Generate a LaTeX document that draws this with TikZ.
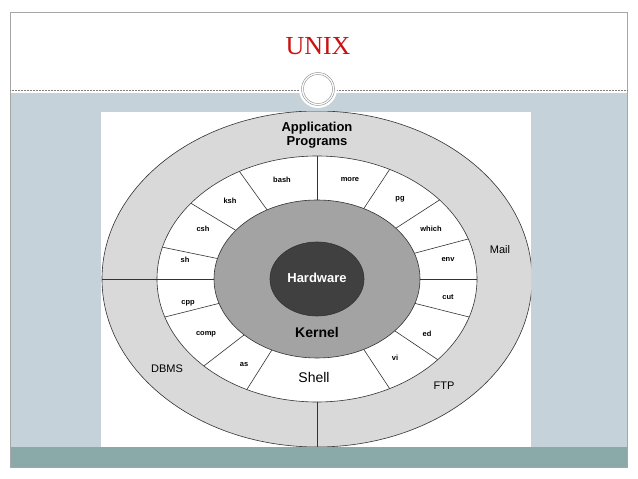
\documentclass[tikz,border=0pt]{standalone}
\usepackage{fontspec}
\setmainfont{Liberation Serif}
\newfontfamily\arial{Liberation Sans}
\usetikzlibrary{calc}
\definecolor{band}{HTML}{C6D2D9}
\definecolor{teal}{HTML}{8AAAAA}
\definecolor{ring}{HTML}{D9D9D9}
\definecolor{kern}{HTML}{A3A3A3}
\definecolor{hw}{HTML}{404040}
\definecolor{titlered}{HTML}{CC1111}
\tikzset{
  seg/.style={font=\arial\bfseries\fontsize{7.5}{8}\selectfont},
  ext/.style={font=\arial\fontsize{11}{12}\selectfont},
  ln/.style={draw=black!80, line width=0.6pt}
}
\begin{document}
\begin{tikzpicture}[x=1pt,y=1pt]
\useasboundingbox (0,0) rectangle (638,479);
\fill[white] (0,0) rectangle (638,479);
% slide
\fill[band] (10,32) rectangle (627,386);
\fill[teal] (10,12) rectangle (627,32);
\draw[gray!70, line width=0.5pt] (10,12) rectangle (627,467);
\draw[gray, densely dotted, line width=0.5pt] (10,389) -- (627,389);
\fill[white] (318,390) circle (19);
\draw[gray!80, line width=0.5pt] (318,390) circle (16.5);
\draw[gray!80, line width=0.5pt] (318,390) circle (14.5);
\node[text=titlered, font=\fontsize{26}{28}\selectfont] (title) at (318,433) {UNIX};
% diagram
\fill[white] (101,32) rectangle (531,367);
\coordinate (C) at (317,200);
\begin{scope}
\clip (101,32) rectangle (531,367);
\filldraw[fill=ring, ln] (C) ellipse (215 and 168);
\draw[ln] ($(C)+(0,-123)$) -- ($(C)+(0,-170)$);
\end{scope}
\draw[ln] ($(C)+(-215,0)$) -- ($(C)+(-160,0)$);
\filldraw[fill=white, ln] (C) ellipse (160 and 123);
\foreach \t in {0,19,40,63,90,119,142,165,180,198,225,244,297,319,342}
  \draw[ln] ($(C)+(\t:103 and 79)$) -- ($(C)+(\t:160 and 123)$);
\filldraw[fill=kern, ln] (C) ellipse (103 and 79);
\filldraw[fill=hw, ln] (C) ellipse (47 and 37);
\node[text=white, font=\arial\bfseries\fontsize{13}{14}\selectfont] (hwl) at (317,201) {Hardware};
\node[font=\arial\bfseries\fontsize{14}{15}\selectfont] (kl) at (317,146) {Kernel};
\node[font=\arial\fontsize{14}{15}\selectfont] (sl) at (314,101) {Shell};
\node[align=center, font=\arial\bfseries\fontsize{13}{14}\selectfont] (app) at (317,344) {Application\\Programs};
\node[ext] (mail) at (500,229) {Mail};
\node[ext] (dbms) at (167,110) {DBMS};
\node[ext] (ftp) at (444,93) {FTP};
\node[seg] (bash) at (282,299) {bash};
\node[seg] (more) at (350,299) {more};
\node[seg] (pg) at (400,280) {pg};
\node[seg] (which) at (431,250) {which};
\node[seg] (env) at (448,219) {env};
\node[seg] (cut) at (448,182) {cut};
\node[seg] (ed) at (427,145) {ed};
\node[seg] (vi) at (395,121) {vi};
\node[seg] (as) at (244,114) {as};
\node[seg] (comp) at (206,145) {comp};
\node[seg] (cpp) at (188,176) {cpp};
\node[seg] (sh) at (185,219) {sh};
\node[seg] (csh) at (203,250) {csh};
\node[seg] (ksh) at (230,278) {ksh};
\end{tikzpicture}
\end{document}
